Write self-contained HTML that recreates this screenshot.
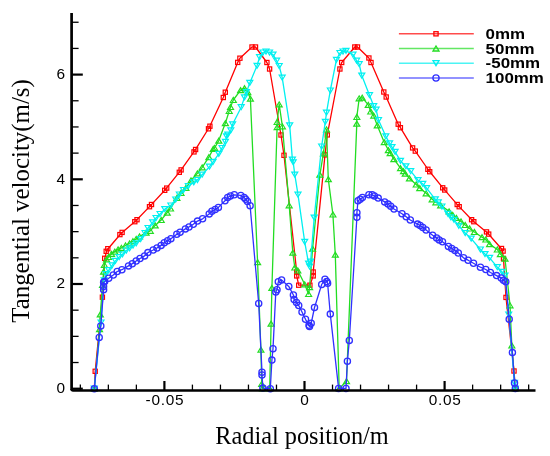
<!DOCTYPE html>
<html><head><meta charset="utf-8"><style>
html,body{margin:0;padding:0;background:#fff;}
svg{display:block;}
</style></head><body>
<svg width="550" height="456" viewBox="0 0 550 456">
<rect width="550" height="456" fill="#fff"/>
<polyline points="94.3,388.7 95.2,371.3 102.4,297.2 104.7,258.3 107.0,250.0 121.0,233.5 135.9,220.7 150.5,205.6 165.7,189.2 180.2,171.1 194.8,150.7 209.2,127.5 223.3,97.5 225.3,92.2 237.7,62.4 239.9,58.2 252.0,47.0 255.5,47.0 266.9,62.5 269.6,69.0 281.0,135.0 284.0,155.3 296.7,272.0 296.7,275.9 298.7,285.2 309.9,285.2 313.2,275.9 313.2,272.0 325.0,154.9 327.3,134.9 339.9,69.0 341.7,62.5 354.8,47.0 357.5,47.0 368.9,58.0 371.0,62.5 383.8,92.0 386.2,97.0 398.2,124.2 400.4,127.7 412.6,147.9 415.3,151.1 428.8,170.5 443.7,188.9 458.2,205.6 472.7,220.7 487.6,233.0 502.3,249.8 503.5,258.6 506.0,297.4 514.0,371.0 515.3,388.5" fill="none" stroke="#ff0000" stroke-width="1.3" stroke-linejoin="round"/>
<g fill="none" stroke="#ff0000" stroke-width="1.2">
<rect x="92.2" y="386.6" width="4.2" height="4.2"/>
<rect x="93.1" y="369.2" width="4.2" height="4.2"/>
<rect x="100.3" y="295.1" width="4.2" height="4.2"/>
<rect x="102.6" y="256.2" width="4.2" height="4.2"/>
<rect x="104.1" y="249.2" width="4.2" height="4.2"/><rect x="105.7" y="246.6" width="4.2" height="4.2"/>
<rect x="117.8" y="232.5" width="4.2" height="4.2"/><rect x="120.0" y="230.3" width="4.2" height="4.2"/>
<rect x="132.7" y="219.6" width="4.2" height="4.2"/><rect x="134.9" y="217.6" width="4.2" height="4.2"/>
<rect x="147.4" y="204.6" width="4.2" height="4.2"/><rect x="149.4" y="202.4" width="4.2" height="4.2"/>
<rect x="162.6" y="188.2" width="4.2" height="4.2"/><rect x="164.6" y="186.0" width="4.2" height="4.2"/>
<rect x="177.2" y="170.2" width="4.2" height="4.2"/><rect x="179.0" y="167.8" width="4.2" height="4.2"/>
<rect x="191.9" y="149.8" width="4.2" height="4.2"/><rect x="193.5" y="147.4" width="4.2" height="4.2"/>
<rect x="206.4" y="126.7" width="4.2" height="4.2"/><rect x="207.8" y="124.1" width="4.2" height="4.2"/>
<rect x="221.2" y="95.4" width="4.2" height="4.2"/>
<rect x="223.2" y="90.1" width="4.2" height="4.2"/>
<rect x="235.6" y="60.3" width="4.2" height="4.2"/>
<rect x="237.8" y="56.1" width="4.2" height="4.2"/>
<rect x="249.9" y="44.9" width="4.2" height="4.2"/>
<rect x="253.4" y="44.9" width="4.2" height="4.2"/>
<rect x="264.8" y="60.4" width="4.2" height="4.2"/>
<rect x="267.5" y="66.9" width="4.2" height="4.2"/>
<rect x="278.9" y="132.9" width="4.2" height="4.2"/>
<rect x="281.9" y="153.2" width="4.2" height="4.2"/>
<rect x="294.6" y="269.9" width="4.2" height="4.2"/>
<rect x="294.6" y="273.8" width="4.2" height="4.2"/>
<rect x="296.6" y="283.1" width="4.2" height="4.2"/>
<rect x="307.8" y="283.1" width="4.2" height="4.2"/>
<rect x="311.1" y="273.8" width="4.2" height="4.2"/>
<rect x="311.1" y="269.9" width="4.2" height="4.2"/>
<rect x="322.9" y="152.8" width="4.2" height="4.2"/>
<rect x="325.2" y="132.8" width="4.2" height="4.2"/>
<rect x="337.8" y="66.9" width="4.2" height="4.2"/>
<rect x="339.6" y="60.4" width="4.2" height="4.2"/>
<rect x="352.7" y="44.9" width="4.2" height="4.2"/>
<rect x="355.4" y="44.9" width="4.2" height="4.2"/>
<rect x="366.8" y="55.9" width="4.2" height="4.2"/>
<rect x="368.9" y="60.4" width="4.2" height="4.2"/>
<rect x="381.7" y="89.9" width="4.2" height="4.2"/>
<rect x="384.1" y="94.9" width="4.2" height="4.2"/>
<rect x="396.1" y="122.1" width="4.2" height="4.2"/>
<rect x="398.3" y="125.6" width="4.2" height="4.2"/>
<rect x="410.5" y="145.8" width="4.2" height="4.2"/>
<rect x="413.2" y="149.0" width="4.2" height="4.2"/>
<rect x="425.8" y="167.2" width="4.2" height="4.2"/><rect x="427.6" y="169.6" width="4.2" height="4.2"/>
<rect x="440.6" y="185.7" width="4.2" height="4.2"/><rect x="442.6" y="187.9" width="4.2" height="4.2"/>
<rect x="455.1" y="202.4" width="4.2" height="4.2"/><rect x="457.1" y="204.6" width="4.2" height="4.2"/>
<rect x="469.5" y="217.6" width="4.2" height="4.2"/><rect x="471.7" y="219.6" width="4.2" height="4.2"/>
<rect x="484.4" y="229.8" width="4.2" height="4.2"/><rect x="486.6" y="232.0" width="4.2" height="4.2"/>
<rect x="499.4" y="246.4" width="4.2" height="4.2"/><rect x="501.0" y="249.0" width="4.2" height="4.2"/>
<rect x="501.4" y="256.5" width="4.2" height="4.2"/>
<rect x="503.9" y="295.3" width="4.2" height="4.2"/>
<rect x="511.9" y="368.9" width="4.2" height="4.2"/>
<rect x="513.2" y="386.4" width="4.2" height="4.2"/>
</g>
<polyline points="94.3,388.7 99.5,329.2 100.3,314.4 102.5,285.0 103.6,271.6 104.4,264.8 106.6,259.3 108.5,257.0 111.5,253.8 114.8,251.6 118.1,249.4 121.4,247.8 125.5,245.5 129.6,243.4 132.9,241.2 136.2,239.0 139.5,236.5 146.1,232.6 150.3,230.8 155.2,225.4 161.2,220.0 167.2,212.7 170.5,208.5 176.9,198.0 181.0,193.0 185.9,187.8 191.0,180.5 197.4,173.3 202.2,167.3 208.9,157.1 213.2,149.0 214.6,147.8 218.8,140.6 225.4,123.1 229.2,111.0 230.5,107.0 233.3,100.0 240.6,90.1 244.5,88.2 247.8,92.1 250.4,98.7 257.6,262.2 260.9,349.7 261.7,383.8 262.5,388.5 269.7,388.5 271.1,323.6 271.9,287.9 277.1,127.2 277.1,122.0 279.2,104.4 282.4,126.3 289.2,205.3 292.8,252.7 294.8,267.5 297.8,270.5 304.7,284.3 308.6,294.0 309.6,287.2 312.6,248.7 319.9,174.6 323.4,153.3 326.5,129.5 328.3,179.2 332.9,214.5 335.3,254.7 339.2,388.5 346.5,381.2 356.8,123.6 356.8,117.0 359.2,98.3 362.2,97.7 368.3,104.9 370.7,111.5 373.7,115.7 377.3,125.4 384.2,142.2 388.4,150.1 390.2,153.1 393.9,159.1 400.5,168.2 403.5,171.2 405.3,173.6 409.5,178.4 416.2,184.5 419.8,188.1 426.2,193.3 432.2,199.3 435.9,202.3 440.7,205.3 449.1,211.4 452.7,215.0 456.4,218.0 461.0,221.5 465.2,225.0 469.6,228.5 474.4,232.0 482.0,237.2 485.8,239.5 489.6,244.1 497.3,249.5 500.4,254.1 505.0,258.7 510.0,305.3 511.8,345.5 515.3,388.5" fill="none" stroke="#22dd22" stroke-width="1.3" stroke-linejoin="round"/>
<g fill="none" stroke="#22dd22" stroke-width="1.2">
<path d="M91.3,391.2L94.3,386.2L97.3,391.2Z"/>
<path d="M96.5,331.7L99.5,326.7L102.5,331.7Z"/>
<path d="M97.3,316.9L100.3,311.9L103.3,316.9Z"/>
<path d="M99.5,287.5L102.5,282.5L105.5,287.5Z"/>
<path d="M100.6,274.1L103.6,269.1L106.6,274.1Z"/>
<path d="M101.4,267.3L104.4,262.3L107.4,267.3Z"/>
<path d="M103.6,261.8L106.6,256.8L109.6,261.8Z"/>
<path d="M105.5,259.5L108.5,254.5L111.5,259.5Z"/>
<path d="M108.5,256.3L111.5,251.3L114.5,256.3Z"/>
<path d="M111.8,254.1L114.8,249.1L117.8,254.1Z"/>
<path d="M115.1,251.9L118.1,246.9L121.1,251.9Z"/>
<path d="M118.4,250.3L121.4,245.3L124.4,250.3Z"/>
<path d="M122.5,248.0L125.5,243.0L128.5,248.0Z"/>
<path d="M126.6,245.9L129.6,240.9L132.6,245.9Z"/>
<path d="M129.9,243.7L132.9,238.7L135.9,243.7Z"/>
<path d="M133.2,241.5L136.2,236.5L139.2,241.5Z"/>
<path d="M136.5,239.0L139.5,234.0L142.5,239.0Z"/>
<path d="M143.1,235.1L146.1,230.1L149.1,235.1Z"/>
<path d="M147.3,233.3L150.3,228.3L153.3,233.3Z"/>
<path d="M152.2,227.9L155.2,222.9L158.2,227.9Z"/>
<path d="M158.2,222.5L161.2,217.5L164.2,222.5Z"/>
<path d="M164.2,215.2L167.2,210.2L170.2,215.2Z"/>
<path d="M167.5,211.0L170.5,206.0L173.5,211.0Z"/>
<path d="M173.9,200.5L176.9,195.5L179.9,200.5Z"/>
<path d="M178.0,195.5L181.0,190.5L184.0,195.5Z"/>
<path d="M182.9,190.3L185.9,185.3L188.9,190.3Z"/>
<path d="M188.0,183.0L191.0,178.0L194.0,183.0Z"/>
<path d="M194.4,175.8L197.4,170.8L200.4,175.8Z"/>
<path d="M199.2,169.8L202.2,164.8L205.2,169.8Z"/>
<path d="M205.9,159.6L208.9,154.6L211.9,159.6Z"/>
<path d="M210.2,151.5L213.2,146.5L216.2,151.5Z"/>
<path d="M211.6,150.3L214.6,145.3L217.6,150.3Z"/>
<path d="M215.8,143.1L218.8,138.1L221.8,143.1Z"/>
<path d="M222.4,125.6L225.4,120.6L228.4,125.6Z"/>
<path d="M226.2,113.5L229.2,108.5L232.2,113.5Z"/>
<path d="M227.5,109.5L230.5,104.5L233.5,109.5Z"/>
<path d="M230.3,102.5L233.3,97.5L236.3,102.5Z"/>
<path d="M237.6,92.6L240.6,87.6L243.6,92.6Z"/>
<path d="M241.5,90.7L244.5,85.7L247.5,90.7Z"/>
<path d="M244.8,94.6L247.8,89.6L250.8,94.6Z"/>
<path d="M247.4,101.2L250.4,96.2L253.4,101.2Z"/>
<path d="M254.6,264.7L257.6,259.7L260.6,264.7Z"/>
<path d="M257.9,352.2L260.9,347.2L263.9,352.2Z"/>
<path d="M258.7,386.3L261.7,381.3L264.7,386.3Z"/>
<path d="M259.5,391.0L262.5,386.0L265.5,391.0Z"/>
<path d="M266.7,391.0L269.7,386.0L272.7,391.0Z"/>
<path d="M268.1,326.1L271.1,321.1L274.1,326.1Z"/>
<path d="M268.9,290.4L271.9,285.4L274.9,290.4Z"/>
<path d="M274.1,129.7L277.1,124.7L280.1,129.7Z"/>
<path d="M274.1,124.5L277.1,119.5L280.1,124.5Z"/>
<path d="M276.2,106.9L279.2,101.9L282.2,106.9Z"/>
<path d="M279.4,128.8L282.4,123.8L285.4,128.8Z"/>
<path d="M286.2,207.8L289.2,202.8L292.2,207.8Z"/>
<path d="M289.8,255.2L292.8,250.2L295.8,255.2Z"/>
<path d="M291.8,270.0L294.8,265.0L297.8,270.0Z"/>
<path d="M294.8,273.0L297.8,268.0L300.8,273.0Z"/>
<path d="M301.7,286.8L304.7,281.8L307.7,286.8Z"/>
<path d="M305.6,296.5L308.6,291.5L311.6,296.5Z"/>
<path d="M306.6,289.7L309.6,284.7L312.6,289.7Z"/>
<path d="M309.6,251.2L312.6,246.2L315.6,251.2Z"/>
<path d="M316.9,177.1L319.9,172.1L322.9,177.1Z"/>
<path d="M320.4,155.8L323.4,150.8L326.4,155.8Z"/>
<path d="M323.5,132.0L326.5,127.0L329.5,132.0Z"/>
<path d="M325.3,181.7L328.3,176.7L331.3,181.7Z"/>
<path d="M329.9,217.0L332.9,212.0L335.9,217.0Z"/>
<path d="M332.3,257.2L335.3,252.2L338.3,257.2Z"/>
<path d="M336.2,391.0L339.2,386.0L342.2,391.0Z"/>
<path d="M343.5,383.7L346.5,378.7L349.5,383.7Z"/>
<path d="M353.8,126.1L356.8,121.1L359.8,126.1Z"/>
<path d="M353.8,119.5L356.8,114.5L359.8,119.5Z"/>
<path d="M356.2,100.8L359.2,95.8L362.2,100.8Z"/>
<path d="M359.2,100.2L362.2,95.2L365.2,100.2Z"/>
<path d="M365.3,107.4L368.3,102.4L371.3,107.4Z"/>
<path d="M367.7,114.0L370.7,109.0L373.7,114.0Z"/>
<path d="M370.7,118.2L373.7,113.2L376.7,118.2Z"/>
<path d="M374.3,127.9L377.3,122.9L380.3,127.9Z"/>
<path d="M381.2,144.7L384.2,139.7L387.2,144.7Z"/>
<path d="M385.4,152.6L388.4,147.6L391.4,152.6Z"/>
<path d="M387.2,155.6L390.2,150.6L393.2,155.6Z"/>
<path d="M390.9,161.6L393.9,156.6L396.9,161.6Z"/>
<path d="M397.5,170.7L400.5,165.7L403.5,170.7Z"/>
<path d="M400.5,173.7L403.5,168.7L406.5,173.7Z"/>
<path d="M402.3,176.1L405.3,171.1L408.3,176.1Z"/>
<path d="M406.5,180.9L409.5,175.9L412.5,180.9Z"/>
<path d="M413.2,187.0L416.2,182.0L419.2,187.0Z"/>
<path d="M416.8,190.6L419.8,185.6L422.8,190.6Z"/>
<path d="M423.2,195.8L426.2,190.8L429.2,195.8Z"/>
<path d="M429.2,201.8L432.2,196.8L435.2,201.8Z"/>
<path d="M432.9,204.8L435.9,199.8L438.9,204.8Z"/>
<path d="M437.7,207.8L440.7,202.8L443.7,207.8Z"/>
<path d="M446.1,213.9L449.1,208.9L452.1,213.9Z"/>
<path d="M449.7,217.5L452.7,212.5L455.7,217.5Z"/>
<path d="M453.4,220.5L456.4,215.5L459.4,220.5Z"/>
<path d="M458.0,224.0L461.0,219.0L464.0,224.0Z"/>
<path d="M462.2,227.5L465.2,222.5L468.2,227.5Z"/>
<path d="M466.6,231.0L469.6,226.0L472.6,231.0Z"/>
<path d="M471.4,234.5L474.4,229.5L477.4,234.5Z"/>
<path d="M479.0,239.7L482.0,234.7L485.0,239.7Z"/>
<path d="M482.8,242.0L485.8,237.0L488.8,242.0Z"/>
<path d="M486.6,246.6L489.6,241.6L492.6,246.6Z"/>
<path d="M494.3,252.0L497.3,247.0L500.3,252.0Z"/>
<path d="M497.4,256.6L500.4,251.6L503.4,256.6Z"/>
<path d="M502.0,261.2L505.0,256.2L508.0,261.2Z"/>
<path d="M507.0,307.8L510.0,302.8L513.0,307.8Z"/>
<path d="M508.8,348.0L511.8,343.0L514.8,348.0Z"/>
<path d="M512.3,391.0L515.3,386.0L518.3,391.0Z"/>
</g>
<polyline points="94.3,388.7 101.0,322.5 104.1,280.3 106.0,274.0 108.8,270.2 112.1,265.3 115.4,260.9 119.2,257.1 122.5,254.3 126.3,250.5 129.6,248.3 133.0,245.5 136.2,243.4 140.6,239.0 145.0,233.0 148.0,228.0 152.7,222.4 156.0,218.0 160.0,214.0 164.8,209.1 170.8,205.5 175.7,199.5 179.3,194.5 183.5,190.0 188.3,186.0 193.8,182.4 197.4,180.0 202.2,174.6 209.5,166.7 213.1,161.9 218.8,153.9 222.0,148.0 225.4,141.8 226.6,136.4 227.8,134.6 230.8,130.3 232.6,124.3 241.2,107.2 244.5,97.4 246.5,92.1 249.8,82.9 257.0,65.8 259.6,57.2 263.0,52.5 266.0,51.5 269.5,52.5 273.0,54.6 276.6,60.7 279.2,66.0 282.2,77.7 289.7,125.4 292.4,159.6 293.2,162.3 294.8,174.6 298.0,194.7 304.7,241.8 308.6,263.6 309.6,266.5 310.6,261.6 314.2,217.6 321.6,146.5 325.3,121.8 326.5,112.7 330.3,90.5 336.4,59.8 339.9,53.0 343.0,51.5 346.0,50.8 353.0,54.6 356.6,60.7 359.2,64.2 361.8,75.6 369.5,95.2 373.7,106.1 376.1,109.7 378.5,120.0 385.8,136.3 389.6,143.4 392.0,147.1 395.1,151.9 400.5,160.9 405.9,166.4 410.7,171.2 418.0,180.2 422.8,183.9 426.6,188.2 435.3,199.3 438.3,202.3 441.9,206.5 447.9,213.8 450.9,217.4 454.0,219.8 458.8,225.8 465.2,233.0 471.2,238.7 480.4,249.5 485.0,254.1 489.6,257.9 497.3,267.2 501.9,271.8 505.0,275.6 508.7,314.5 514.5,382.9 515.3,388.5" fill="none" stroke="#00f0f0" stroke-width="1.3" stroke-linejoin="round"/>
<g fill="none" stroke="#00f0f0" stroke-width="1.2">
<path d="M91.3,386.2L94.3,391.2L97.3,386.2Z"/>
<path d="M98.0,320.0L101.0,325.0L104.0,320.0Z"/>
<path d="M101.1,277.8L104.1,282.8L107.1,277.8Z"/>
<path d="M103.0,271.5L106.0,276.5L109.0,271.5Z"/>
<path d="M105.8,267.7L108.8,272.7L111.8,267.7Z"/>
<path d="M109.1,262.8L112.1,267.8L115.1,262.8Z"/>
<path d="M112.4,258.4L115.4,263.4L118.4,258.4Z"/>
<path d="M116.2,254.6L119.2,259.6L122.2,254.6Z"/>
<path d="M119.5,251.8L122.5,256.8L125.5,251.8Z"/>
<path d="M123.3,248.0L126.3,253.0L129.3,248.0Z"/>
<path d="M126.6,245.8L129.6,250.8L132.6,245.8Z"/>
<path d="M130.0,243.0L133.0,248.0L136.0,243.0Z"/>
<path d="M133.2,240.9L136.2,245.9L139.2,240.9Z"/>
<path d="M137.6,236.5L140.6,241.5L143.6,236.5Z"/>
<path d="M142.0,230.5L145.0,235.5L148.0,230.5Z"/>
<path d="M145.0,225.5L148.0,230.5L151.0,225.5Z"/>
<path d="M149.7,219.9L152.7,224.9L155.7,219.9Z"/>
<path d="M153.0,215.5L156.0,220.5L159.0,215.5Z"/>
<path d="M157.0,211.5L160.0,216.5L163.0,211.5Z"/>
<path d="M161.8,206.6L164.8,211.6L167.8,206.6Z"/>
<path d="M167.8,203.0L170.8,208.0L173.8,203.0Z"/>
<path d="M172.7,197.0L175.7,202.0L178.7,197.0Z"/>
<path d="M176.3,192.0L179.3,197.0L182.3,192.0Z"/>
<path d="M180.5,187.5L183.5,192.5L186.5,187.5Z"/>
<path d="M185.3,183.5L188.3,188.5L191.3,183.5Z"/>
<path d="M190.8,179.9L193.8,184.9L196.8,179.9Z"/>
<path d="M194.4,177.5L197.4,182.5L200.4,177.5Z"/>
<path d="M199.2,172.1L202.2,177.1L205.2,172.1Z"/>
<path d="M206.5,164.2L209.5,169.2L212.5,164.2Z"/>
<path d="M210.1,159.4L213.1,164.4L216.1,159.4Z"/>
<path d="M215.8,151.4L218.8,156.4L221.8,151.4Z"/>
<path d="M219.0,145.5L222.0,150.5L225.0,145.5Z"/>
<path d="M222.4,139.3L225.4,144.3L228.4,139.3Z"/>
<path d="M223.6,133.9L226.6,138.9L229.6,133.9Z"/>
<path d="M224.8,132.1L227.8,137.1L230.8,132.1Z"/>
<path d="M227.8,127.8L230.8,132.8L233.8,127.8Z"/>
<path d="M229.6,121.8L232.6,126.8L235.6,121.8Z"/>
<path d="M238.2,104.7L241.2,109.7L244.2,104.7Z"/>
<path d="M241.5,94.9L244.5,99.9L247.5,94.9Z"/>
<path d="M243.5,89.6L246.5,94.6L249.5,89.6Z"/>
<path d="M246.8,80.4L249.8,85.4L252.8,80.4Z"/>
<path d="M254.0,63.3L257.0,68.3L260.0,63.3Z"/>
<path d="M256.6,54.7L259.6,59.7L262.6,54.7Z"/>
<path d="M260.0,50.0L263.0,55.0L266.0,50.0Z"/>
<path d="M263.0,49.0L266.0,54.0L269.0,49.0Z"/>
<path d="M266.5,50.0L269.5,55.0L272.5,50.0Z"/>
<path d="M270.0,52.1L273.0,57.1L276.0,52.1Z"/>
<path d="M273.6,58.2L276.6,63.2L279.6,58.2Z"/>
<path d="M276.2,63.5L279.2,68.5L282.2,63.5Z"/>
<path d="M279.2,75.2L282.2,80.2L285.2,75.2Z"/>
<path d="M286.7,122.9L289.7,127.9L292.7,122.9Z"/>
<path d="M289.4,157.1L292.4,162.1L295.4,157.1Z"/>
<path d="M290.2,159.8L293.2,164.8L296.2,159.8Z"/>
<path d="M291.8,172.1L294.8,177.1L297.8,172.1Z"/>
<path d="M295.0,192.2L298.0,197.2L301.0,192.2Z"/>
<path d="M301.7,239.3L304.7,244.3L307.7,239.3Z"/>
<path d="M305.6,261.1L308.6,266.1L311.6,261.1Z"/>
<path d="M306.6,264.0L309.6,269.0L312.6,264.0Z"/>
<path d="M307.6,259.1L310.6,264.1L313.6,259.1Z"/>
<path d="M311.2,215.1L314.2,220.1L317.2,215.1Z"/>
<path d="M318.6,144.0L321.6,149.0L324.6,144.0Z"/>
<path d="M322.3,119.3L325.3,124.3L328.3,119.3Z"/>
<path d="M323.5,110.2L326.5,115.2L329.5,110.2Z"/>
<path d="M327.3,88.0L330.3,93.0L333.3,88.0Z"/>
<path d="M333.4,57.3L336.4,62.3L339.4,57.3Z"/>
<path d="M336.9,50.5L339.9,55.5L342.9,50.5Z"/>
<path d="M340.0,49.0L343.0,54.0L346.0,49.0Z"/>
<path d="M343.0,48.3L346.0,53.3L349.0,48.3Z"/>
<path d="M350.0,52.1L353.0,57.1L356.0,52.1Z"/>
<path d="M353.6,58.2L356.6,63.2L359.6,58.2Z"/>
<path d="M356.2,61.7L359.2,66.7L362.2,61.7Z"/>
<path d="M358.8,73.1L361.8,78.1L364.8,73.1Z"/>
<path d="M366.5,92.7L369.5,97.7L372.5,92.7Z"/>
<path d="M370.7,103.6L373.7,108.6L376.7,103.6Z"/>
<path d="M373.1,107.2L376.1,112.2L379.1,107.2Z"/>
<path d="M375.5,117.5L378.5,122.5L381.5,117.5Z"/>
<path d="M382.8,133.8L385.8,138.8L388.8,133.8Z"/>
<path d="M386.6,140.9L389.6,145.9L392.6,140.9Z"/>
<path d="M389.0,144.6L392.0,149.6L395.0,144.6Z"/>
<path d="M392.1,149.4L395.1,154.4L398.1,149.4Z"/>
<path d="M397.5,158.4L400.5,163.4L403.5,158.4Z"/>
<path d="M402.9,163.9L405.9,168.9L408.9,163.9Z"/>
<path d="M407.7,168.7L410.7,173.7L413.7,168.7Z"/>
<path d="M415.0,177.7L418.0,182.7L421.0,177.7Z"/>
<path d="M419.8,181.4L422.8,186.4L425.8,181.4Z"/>
<path d="M423.6,185.7L426.6,190.7L429.6,185.7Z"/>
<path d="M432.3,196.8L435.3,201.8L438.3,196.8Z"/>
<path d="M435.3,199.8L438.3,204.8L441.3,199.8Z"/>
<path d="M438.9,204.0L441.9,209.0L444.9,204.0Z"/>
<path d="M444.9,211.3L447.9,216.3L450.9,211.3Z"/>
<path d="M447.9,214.9L450.9,219.9L453.9,214.9Z"/>
<path d="M451.0,217.3L454.0,222.3L457.0,217.3Z"/>
<path d="M455.8,223.3L458.8,228.3L461.8,223.3Z"/>
<path d="M462.2,230.5L465.2,235.5L468.2,230.5Z"/>
<path d="M468.2,236.2L471.2,241.2L474.2,236.2Z"/>
<path d="M477.4,247.0L480.4,252.0L483.4,247.0Z"/>
<path d="M482.0,251.6L485.0,256.6L488.0,251.6Z"/>
<path d="M486.6,255.4L489.6,260.4L492.6,255.4Z"/>
<path d="M494.3,264.7L497.3,269.7L500.3,264.7Z"/>
<path d="M498.9,269.3L501.9,274.3L504.9,269.3Z"/>
<path d="M502.0,273.1L505.0,278.1L508.0,273.1Z"/>
<path d="M505.7,312.0L508.7,317.0L511.7,312.0Z"/>
<path d="M511.5,380.4L514.5,385.4L517.5,380.4Z"/>
<path d="M512.3,386.0L515.3,391.0L518.3,386.0Z"/>
</g>
<polyline points="94.3,388.7 99.2,337.4 100.8,325.9 103.6,289.7 103.6,286.4 103.6,282.3 104.7,281.6 108.7,278.3 113.3,275.0 117.2,271.5 121.9,269.7 128.5,265.9 132.3,263.7 136.2,261.0 140.0,258.5 144.6,255.9 147.9,252.6 153.2,250.0 157.0,248.0 161.1,245.4 164.3,242.8 167.6,240.8 170.9,238.8 176.8,234.2 180.1,232.2 185.4,228.9 189.0,227.0 193.3,224.3 197.5,221.1 202.6,218.8 209.2,213.9 211.9,211.2 215.2,209.5 218.4,207.4 225.0,200.8 227.7,197.5 230.4,195.9 234.3,194.8 240.8,195.4 244.1,197.5 245.7,199.2 247.5,201.5 250.1,205.7 258.7,303.5 262.0,372.2 262.0,375.0 262.9,388.1 270.3,388.7 271.9,360.1 273.0,348.8 275.8,292.0 277.0,289.7 278.3,281.8 281.6,279.9 288.8,286.4 293.4,295.0 294.1,299.6 296.5,302.5 298.7,305.5 302.0,312.0 305.5,319.3 309.0,325.3 309.5,326.6 311.2,323.3 314.5,307.5 321.7,284.5 325.0,279.2 326.8,281.5 327.6,283.2 330.3,314.1 338.6,388.4 346.0,388.4 347.4,361.2 349.3,340.4 356.9,217.2 356.9,212.8 358.0,200.8 360.2,199.2 362.4,197.5 368.9,194.8 372.2,194.8 374.4,195.9 378.2,198.1 384.7,201.9 388.0,204.1 390.7,206.3 394.0,209.0 402.0,213.8 406.2,216.8 410.3,220.0 417.5,224.1 420.1,225.4 422.8,227.4 426.1,230.0 432.6,235.3 436.6,237.9 439.2,239.9 442.5,241.8 448.4,246.4 451.7,248.4 455.0,250.4 458.3,253.0 463.5,257.8 468.1,260.2 473.5,263.3 480.4,267.2 485.8,269.5 490.4,272.5 496.6,275.6 501.2,277.9 503.5,280.2 505.8,281.7 509.2,319.2 512.4,352.6 514.5,382.9 515.3,388.5" fill="none" stroke="#3030ff" stroke-width="1.3" stroke-linejoin="round"/>
<g fill="none" stroke="#3030ff" stroke-width="1.3">
<circle cx="94.3" cy="388.7" r="3.1"/>
<circle cx="99.2" cy="337.4" r="3.1"/>
<circle cx="100.8" cy="325.9" r="3.1"/>
<circle cx="103.6" cy="289.7" r="3.1"/>
<circle cx="103.6" cy="286.4" r="3.1"/>
<circle cx="103.6" cy="282.3" r="3.1"/>
<circle cx="104.7" cy="281.6" r="3.1"/>
<circle cx="108.7" cy="278.3" r="3.1"/>
<circle cx="113.3" cy="275.0" r="3.1"/>
<circle cx="117.2" cy="271.5" r="3.1"/>
<circle cx="121.9" cy="269.7" r="3.1"/>
<circle cx="128.5" cy="265.9" r="3.1"/>
<circle cx="132.3" cy="263.7" r="3.1"/>
<circle cx="136.2" cy="261.0" r="3.1"/>
<circle cx="140.0" cy="258.5" r="3.1"/>
<circle cx="144.6" cy="255.9" r="3.1"/>
<circle cx="147.9" cy="252.6" r="3.1"/>
<circle cx="153.2" cy="250.0" r="3.1"/>
<circle cx="157.0" cy="248.0" r="3.1"/>
<circle cx="161.1" cy="245.4" r="3.1"/>
<circle cx="164.3" cy="242.8" r="3.1"/>
<circle cx="167.6" cy="240.8" r="3.1"/>
<circle cx="170.9" cy="238.8" r="3.1"/>
<circle cx="176.8" cy="234.2" r="3.1"/>
<circle cx="180.1" cy="232.2" r="3.1"/>
<circle cx="185.4" cy="228.9" r="3.1"/>
<circle cx="189.0" cy="227.0" r="3.1"/>
<circle cx="193.3" cy="224.3" r="3.1"/>
<circle cx="197.5" cy="221.1" r="3.1"/>
<circle cx="202.6" cy="218.8" r="3.1"/>
<circle cx="209.2" cy="213.9" r="3.1"/>
<circle cx="211.9" cy="211.2" r="3.1"/>
<circle cx="215.2" cy="209.5" r="3.1"/>
<circle cx="218.4" cy="207.4" r="3.1"/>
<circle cx="225.0" cy="200.8" r="3.1"/>
<circle cx="227.7" cy="197.5" r="3.1"/>
<circle cx="230.4" cy="195.9" r="3.1"/>
<circle cx="234.3" cy="194.8" r="3.1"/>
<circle cx="240.8" cy="195.4" r="3.1"/>
<circle cx="244.1" cy="197.5" r="3.1"/>
<circle cx="245.7" cy="199.2" r="3.1"/>
<circle cx="247.5" cy="201.5" r="3.1"/>
<circle cx="250.1" cy="205.7" r="3.1"/>
<circle cx="258.7" cy="303.5" r="3.1"/>
<circle cx="262.0" cy="372.2" r="3.1"/>
<circle cx="262.0" cy="375.0" r="3.1"/>
<circle cx="262.9" cy="388.1" r="3.1"/>
<circle cx="270.3" cy="388.7" r="3.1"/>
<circle cx="271.9" cy="360.1" r="3.1"/>
<circle cx="273.0" cy="348.8" r="3.1"/>
<circle cx="275.8" cy="292.0" r="3.1"/>
<circle cx="277.0" cy="289.7" r="3.1"/>
<circle cx="278.3" cy="281.8" r="3.1"/>
<circle cx="281.6" cy="279.9" r="3.1"/>
<circle cx="288.8" cy="286.4" r="3.1"/>
<circle cx="293.4" cy="295.0" r="3.1"/>
<circle cx="294.1" cy="299.6" r="3.1"/>
<circle cx="296.5" cy="302.5" r="3.1"/>
<circle cx="298.7" cy="305.5" r="3.1"/>
<circle cx="302.0" cy="312.0" r="3.1"/>
<circle cx="305.5" cy="319.3" r="3.1"/>
<circle cx="309.0" cy="325.3" r="3.1"/>
<circle cx="309.5" cy="326.6" r="3.1"/>
<circle cx="311.2" cy="323.3" r="3.1"/>
<circle cx="314.5" cy="307.5" r="3.1"/>
<circle cx="321.7" cy="284.5" r="3.1"/>
<circle cx="325.0" cy="279.2" r="3.1"/>
<circle cx="326.8" cy="281.5" r="3.1"/>
<circle cx="327.6" cy="283.2" r="3.1"/>
<circle cx="330.3" cy="314.1" r="3.1"/>
<circle cx="338.6" cy="388.4" r="3.1"/>
<circle cx="346.0" cy="388.4" r="3.1"/>
<circle cx="347.4" cy="361.2" r="3.1"/>
<circle cx="349.3" cy="340.4" r="3.1"/>
<circle cx="356.9" cy="217.2" r="3.1"/>
<circle cx="356.9" cy="212.8" r="3.1"/>
<circle cx="358.0" cy="200.8" r="3.1"/>
<circle cx="360.2" cy="199.2" r="3.1"/>
<circle cx="362.4" cy="197.5" r="3.1"/>
<circle cx="368.9" cy="194.8" r="3.1"/>
<circle cx="372.2" cy="194.8" r="3.1"/>
<circle cx="374.4" cy="195.9" r="3.1"/>
<circle cx="378.2" cy="198.1" r="3.1"/>
<circle cx="384.7" cy="201.9" r="3.1"/>
<circle cx="388.0" cy="204.1" r="3.1"/>
<circle cx="390.7" cy="206.3" r="3.1"/>
<circle cx="394.0" cy="209.0" r="3.1"/>
<circle cx="402.0" cy="213.8" r="3.1"/>
<circle cx="406.2" cy="216.8" r="3.1"/>
<circle cx="410.3" cy="220.0" r="3.1"/>
<circle cx="417.5" cy="224.1" r="3.1"/>
<circle cx="420.1" cy="225.4" r="3.1"/>
<circle cx="422.8" cy="227.4" r="3.1"/>
<circle cx="426.1" cy="230.0" r="3.1"/>
<circle cx="432.6" cy="235.3" r="3.1"/>
<circle cx="436.6" cy="237.9" r="3.1"/>
<circle cx="439.2" cy="239.9" r="3.1"/>
<circle cx="442.5" cy="241.8" r="3.1"/>
<circle cx="448.4" cy="246.4" r="3.1"/>
<circle cx="451.7" cy="248.4" r="3.1"/>
<circle cx="455.0" cy="250.4" r="3.1"/>
<circle cx="458.3" cy="253.0" r="3.1"/>
<circle cx="463.5" cy="257.8" r="3.1"/>
<circle cx="468.1" cy="260.2" r="3.1"/>
<circle cx="473.5" cy="263.3" r="3.1"/>
<circle cx="480.4" cy="267.2" r="3.1"/>
<circle cx="485.8" cy="269.5" r="3.1"/>
<circle cx="490.4" cy="272.5" r="3.1"/>
<circle cx="496.6" cy="275.6" r="3.1"/>
<circle cx="501.2" cy="277.9" r="3.1"/>
<circle cx="503.5" cy="280.2" r="3.1"/>
<circle cx="505.8" cy="281.7" r="3.1"/>
<circle cx="509.2" cy="319.2" r="3.1"/>
<circle cx="512.4" cy="352.6" r="3.1"/>
<circle cx="514.5" cy="382.9" r="3.1"/>
<circle cx="515.3" cy="388.5" r="3.1"/>
</g>
<g stroke="#000" fill="none" stroke-linecap="butt">
<path d="M71.6,12.9 V390.2" stroke-width="2.7"/>
<path d="M71.6,389 Q71.6,390.5 73,390.5 H535.5" stroke-width="2.3"/>
<line x1="71.5" y1="388.70" x2="82.8" y2="388.70" stroke-width="2.2"/>
<line x1="71.5" y1="362.52" x2="78.6" y2="362.52" stroke-width="1.3"/>
<line x1="71.5" y1="336.35" x2="78.6" y2="336.35" stroke-width="1.3"/>
<line x1="71.5" y1="310.17" x2="78.6" y2="310.17" stroke-width="1.3"/>
<line x1="71.5" y1="284.00" x2="82.8" y2="284.00" stroke-width="2.2"/>
<line x1="71.5" y1="257.82" x2="78.6" y2="257.82" stroke-width="1.3"/>
<line x1="71.5" y1="231.65" x2="78.6" y2="231.65" stroke-width="1.3"/>
<line x1="71.5" y1="205.47" x2="78.6" y2="205.47" stroke-width="1.3"/>
<line x1="71.5" y1="179.30" x2="82.8" y2="179.30" stroke-width="2.2"/>
<line x1="71.5" y1="153.12" x2="78.6" y2="153.12" stroke-width="1.3"/>
<line x1="71.5" y1="126.95" x2="78.6" y2="126.95" stroke-width="1.3"/>
<line x1="71.5" y1="100.77" x2="78.6" y2="100.77" stroke-width="1.3"/>
<line x1="71.5" y1="74.60" x2="82.8" y2="74.60" stroke-width="2.2"/>
<line x1="71.5" y1="48.42" x2="78.6" y2="48.42" stroke-width="1.3"/>
<line x1="71.5" y1="22.25" x2="78.6" y2="22.25" stroke-width="1.3"/>
<line x1="80.34" y1="390.5" x2="80.34" y2="384.6" stroke-width="1.3"/>
<line x1="108.36" y1="390.5" x2="108.36" y2="384.6" stroke-width="1.3"/>
<line x1="136.38" y1="390.5" x2="136.38" y2="384.6" stroke-width="1.3"/>
<line x1="164.40" y1="390.5" x2="164.40" y2="381" stroke-width="2.2"/>
<line x1="192.42" y1="390.5" x2="192.42" y2="384.6" stroke-width="1.3"/>
<line x1="220.44" y1="390.5" x2="220.44" y2="384.6" stroke-width="1.3"/>
<line x1="248.46" y1="390.5" x2="248.46" y2="384.6" stroke-width="1.3"/>
<line x1="276.48" y1="390.5" x2="276.48" y2="384.6" stroke-width="1.3"/>
<line x1="304.50" y1="390.5" x2="304.50" y2="381" stroke-width="2.2"/>
<line x1="332.52" y1="390.5" x2="332.52" y2="384.6" stroke-width="1.3"/>
<line x1="360.54" y1="390.5" x2="360.54" y2="384.6" stroke-width="1.3"/>
<line x1="388.56" y1="390.5" x2="388.56" y2="384.6" stroke-width="1.3"/>
<line x1="416.58" y1="390.5" x2="416.58" y2="384.6" stroke-width="1.3"/>
<line x1="444.60" y1="390.5" x2="444.60" y2="381" stroke-width="2.2"/>
<line x1="472.62" y1="390.5" x2="472.62" y2="384.6" stroke-width="1.3"/>
<line x1="500.64" y1="390.5" x2="500.64" y2="384.6" stroke-width="1.3"/>
<line x1="528.66" y1="390.5" x2="528.66" y2="384.6" stroke-width="1.3"/>
</g>
<g font-family="Liberation Sans, Arial, sans-serif" font-size="15.4" fill="#000">
<text x="65" y="79.0" text-anchor="end">6</text>
<text x="65" y="183.7" text-anchor="end">4</text>
<text x="65" y="288.4" text-anchor="end">2</text>
<text x="65" y="393.1" text-anchor="end">0</text>
<text x="164.9" y="405.2" text-anchor="middle" letter-spacing="0.7">-0.05</text>
<text x="305.0" y="405.2" text-anchor="middle" letter-spacing="0.7">0</text>
<text x="445.1" y="405.2" text-anchor="middle" letter-spacing="0.7">0.05</text>
</g>
<text x="302" y="444.2" text-anchor="middle" font-family="Liberation Serif, Times New Roman, serif" font-size="24.3" fill="#000">Radial position/m</text>
<text transform="translate(28.8,201) rotate(-90)" x="0" y="0" text-anchor="middle" font-family="Liberation Serif, Times New Roman, serif" font-size="24.9" fill="#000">Tangential velocity(m/s)</text>
<line x1="398.9" y1="33.8" x2="473.8" y2="33.8" stroke="#ff0000" stroke-width="1.5" opacity="0.7"/>
<g fill="none" stroke="#ff0000" stroke-width="1.3"><rect x="433.9" y="31.7" width="4.2" height="4.2"/></g>
<text transform="translate(485.6,39.0) scale(1.2,1)" font-family="Liberation Sans, Arial, sans-serif" font-weight="bold" font-size="14.1" fill="#000">0mm</text>
<line x1="398.9" y1="48.5" x2="473.8" y2="48.5" stroke="#22dd22" stroke-width="1.5" opacity="0.7"/>
<g fill="none" stroke="#22dd22" stroke-width="1.3"><path d="M433.0,51.0L436.0,46.0L439.0,51.0Z"/></g>
<text transform="translate(485.6,53.7) scale(1.2,1)" font-family="Liberation Sans, Arial, sans-serif" font-weight="bold" font-size="14.1" fill="#000">50mm</text>
<line x1="398.9" y1="63.2" x2="473.8" y2="63.2" stroke="#00f0f0" stroke-width="1.5" opacity="0.7"/>
<g fill="none" stroke="#00f0f0" stroke-width="1.3"><path d="M433.0,60.7L436.0,65.7L439.0,60.7Z"/></g>
<text transform="translate(485.6,68.4) scale(1.2,1)" font-family="Liberation Sans, Arial, sans-serif" font-weight="bold" font-size="14.1" fill="#000">-50mm</text>
<line x1="398.9" y1="78.0" x2="473.8" y2="78.0" stroke="#3030ff" stroke-width="1.5" opacity="0.7"/>
<g fill="none" stroke="#3030ff" stroke-width="1.3"><circle cx="436.0" cy="78.0" r="3.1"/></g>
<text transform="translate(485.6,83.2) scale(1.2,1)" font-family="Liberation Sans, Arial, sans-serif" font-weight="bold" font-size="14.1" fill="#000">100mm</text>
</svg>
</body></html>
